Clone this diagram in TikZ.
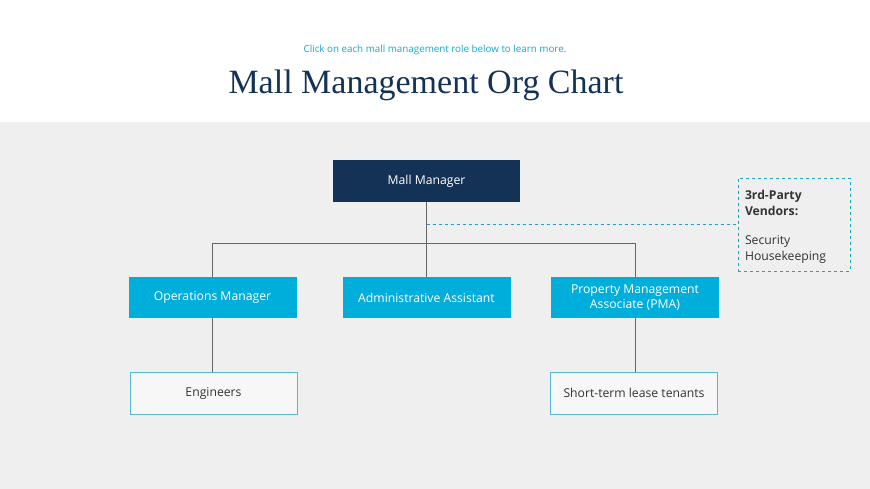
\documentclass[tikz,border=0pt]{standalone}
\usepackage{fontspec}
\setmainfont{Liberation Serif}
\setsansfont{Open Sans}
\usetikzlibrary{positioning}

\definecolor{navy}{HTML}{143256}
\definecolor{cyanbox}{HTML}{00AEDB}
\definecolor{cyantext}{HTML}{1AA6C8}
\definecolor{lightbox}{HTML}{F7F7F7}
\definecolor{boxline}{HTML}{55B9D0}
\definecolor{panel}{HTML}{EFEFEF}
\definecolor{linegray}{HTML}{666666}

\begin{document}
\begin{tikzpicture}[x=1pt, y=-1pt,
            topbox/.style={draw=none, fill=navy, text=white, minimum width=187pt, minimum height=42pt, inner sep=0pt, font=\sffamily\fontsize{12.2}{14}\selectfont},
            rolebox/.style={draw=none, fill=cyanbox, text=white, minimum width=168pt, minimum height=41pt, inner sep=0pt, align=center, font=\sffamily\fontsize{12.2}{14.5}\selectfont},
            teambox/.style={draw=boxline, line width=0.8pt, fill=lightbox, text=black!80, minimum width=167pt, minimum height=42pt, inner sep=0pt, font=\sffamily\fontsize{12.2}{14}\selectfont},
            vendorbox/.style={draw=cyantext, dashed, line width=0.7pt, minimum width=112pt, minimum height=93pt, text width=98pt, inner sep=0pt, align=left, text=black!80, font=\sffamily\fontsize{12.2}{15.5}\selectfont},
            conn/.style={draw=linegray, line width=0.8pt},
            dashline/.style={draw=cyantext, dashed, line width=0.7pt}
        ]
            % FRAME
            \useasboundingbox (0,0) rectangle (870,489);
            \fill[white] (0,0) rectangle (870,122);
            \fill[panel] (0,122) rectangle (870,489);

            % TITLES
            \node[text=cyantext, font=\sffamily\fontsize{9.8}{11}\selectfont] (hint) at (435,50) {Click on each mall management role below to learn more.};
            \node[text=navy, font=\fontsize{34}{38}\selectfont] (title) at (426,85) {Mall Management Org Chart};

            % BOXES
            \node[topbox] (mall) at (426.5,181) {Mall Manager};
            \node[rolebox] (ops) at (212.5,297.5) {Operations Manager};
            \node[rolebox] (admin) at (426.5,297.5) {Administrative Assistant};
            \node[rolebox] (pma) at (635,297.5) {Property Management\\Associate (PMA)};
            \node[teambox] (eng) at (213.5,393) {Engineers};
            \node[teambox] (lease) at (634,393) {Short-term lease tenants};
            \node[vendorbox] (vendors) at (794,224.5) {\rule{0pt}{14pt}\textbf{3rd-Party}\\\textbf{Vendors:}\\[14pt]Security\\Housekeeping};

            % LINES
            \draw[conn] (mall) -- (admin);
            \draw[conn] (ops.north) -- (ops.north |- 0,243) -| (pma.north);
            \draw[conn] (ops) -- (ops |- eng.north);
            \draw[conn] (pma) -- (pma |- lease.north);
            \draw[dashline] (mall.south |- vendors.west) -- (vendors.west);
        \end{tikzpicture}
\end{document}
